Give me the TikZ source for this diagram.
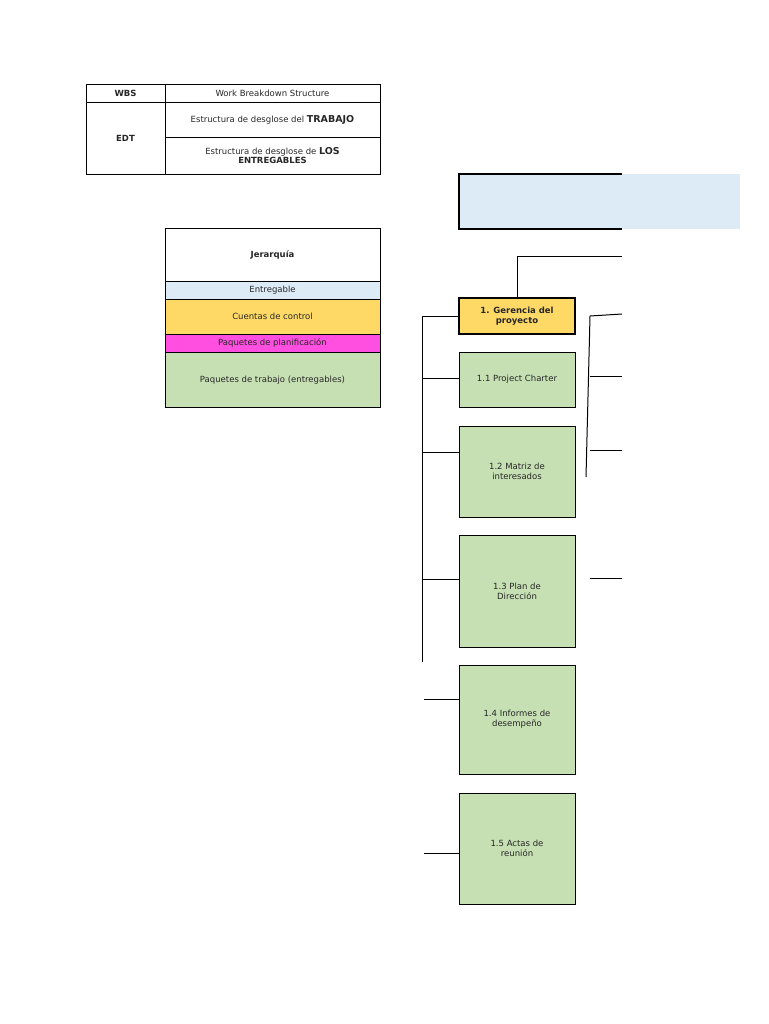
\documentclass[tikz,border=0pt]{standalone}
\usepackage{fontspec}
\setmainfont{DejaVu Sans}
\begin{document}
\begin{tikzpicture}[x=1pt,y=-1pt,
  cell/.style={draw=black,line width=0.6pt},
  box/.style={draw=black,line width=0.7pt,fill=wbsgreen},
  lbl/.style={font=\fontsize{8.5}{10}\selectfont,align=center,text=black!85},
  ln/.style={line width=1pt}]
\definecolor{wbsgreen}{HTML}{C6E0B4}
\definecolor{wbsyellow}{HTML}{FFD966}
\definecolor{wbsmag}{HTML}{FF4FE0}
\definecolor{wbsblue}{HTML}{DDEBF7}
\useasboundingbox (0,0) rectangle (768,1024);
% table
\draw[cell] (86,84) rectangle (165,102);
\draw[cell] (165,84) rectangle (380,102);
\draw[cell] (86,102) rectangle (165,174);
\draw[cell] (165,102) rectangle (380,137);
\draw[cell] (165,137) rectangle (380,174);
\node[lbl] (wbs) at (125.5,93) {\textbf{WBS}};
\node[lbl] (wbsd) at (272.5,93) {Work Breakdown Structure};
\node[lbl] (edt) at (125.5,138) {\textbf{EDT}};
\node[lbl] (edt1) at (272.5,120) {Estructura de desglose del \textbf{\fontsize{9.5}{10}\selectfont TRABAJO}};
\node[lbl] (edt2) at (272.5,156) {Estructura de desglose de \textbf{\fontsize{9.5}{10}\selectfont LOS}\\[-1pt]\textbf{ENTREGABLES}};
% legend
\draw[cell,fill=white] (165,228) rectangle (380,281);
\draw[cell,fill=wbsblue] (165,281) rectangle (380,299);
\draw[cell,fill=wbsyellow] (165,299) rectangle (380,334);
\draw[cell,fill=wbsmag] (165,334) rectangle (380,352);
\draw[cell,fill=wbsgreen] (165,352) rectangle (380,407);
\node[lbl] (j) at (272.5,254.5) {\textbf{Jerarquía}};
\node[lbl] (j1) at (272.5,290) {Entregable};
\node[lbl] (j2) at (272.5,316.5) {Cuentas de control};
\node[lbl] (j3) at (272.5,343) {Paquetes de planificación};
\node[lbl] (j4) at (272.5,380) {Paquetes de trabajo (entregables)};
% top blue
\fill[wbsblue] (459,174) rectangle (740,229);
\draw[line width=2pt] (622,174) -- (459,174) -- (459,229) -- (622,229);
\draw[ln] (517,298) -- (517,256) -- (622,256);
% main
\node[box,fill=wbsyellow,line width=1.5pt,minimum width=116pt,minimum height=36pt,inner sep=1pt] (g) at (517,316) {};
\node[lbl] at (g) {\textbf{1. Gerencia del}\\\textbf{proyecto}};
\node[box,minimum width=116pt,minimum height=55pt] (a) at (517,379.5) {};
\node[lbl] at (a) {1.1 Project Charter};
\node[box,minimum width=116pt,minimum height=91pt] (b) at (517,471.5) {};
\node[lbl] at (b) {1.2 Matriz de\\interesados};
\node[box,minimum width=116pt,minimum height=112pt] (c) at (517,591) {};
\node[lbl] at (c) {1.3 Plan de\\Dirección};
\node[box,minimum width=116pt,minimum height=109pt] (d) at (517,719.5) {};
\node[lbl] at (d) {1.4 Informes de\\desempeño};
\node[box,minimum width=116pt,minimum height=111pt] (e) at (517,848.5) {};
\node[lbl] at (e) {1.5 Actas de\\reunión};
% left connectors
\draw[ln] (422,662) -- (422,316) -- (459,316);
\draw[ln] (422,378) -- (459,378);
\draw[ln] (422,452) -- (459,452);
\draw[ln] (422,579) -- (459,579);
\draw[ln] (424,699) -- (459,699);
\draw[ln] (424,853) -- (459,853);
% right connectors
\draw[ln] (586,477) -- (590,316) -- (622,314);
\draw[ln] (590,376) -- (622,376);
\draw[ln] (590,450) -- (622,450);
\draw[ln] (590,578) -- (622,578);
\end{tikzpicture}
\end{document}
